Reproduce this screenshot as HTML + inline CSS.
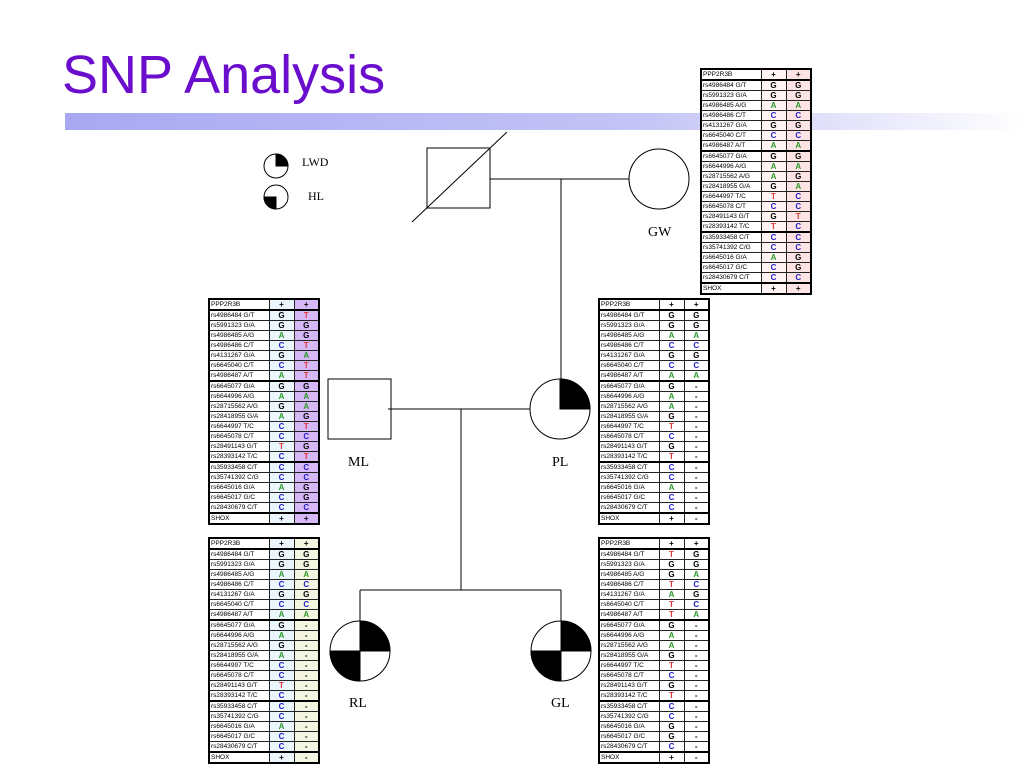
<!DOCTYPE html>
<html><head><meta charset="utf-8"><style>
body{margin:0;width:1024px;height:768px;background:#fff;position:relative;overflow:hidden;font-family:"Liberation Sans",sans-serif}
.title{position:absolute;left:62px;top:45px;font-size:54px;color:#6a0dcc;line-height:60px}
.bar{position:absolute;left:65px;top:113px;width:959px;height:17px;background:linear-gradient(to right,#a8a8f2,#c4c4f6 60%,#fff)}
table.t{position:absolute;width:112px;border-collapse:collapse;border:2px solid #000;font-size:6.5px;table-layout:fixed;background:#fff}
table.t td{border:1px solid #222;height:9px;padding:0 1px;line-height:9px;white-space:nowrap;overflow:hidden}
table.t td:nth-child(2),table.t td:nth-child(3){text-align:center;font-weight:bold;font-size:8px}
table.t tr.s td{border-top:2px solid #000}
.G{color:#000}.A{color:#2a9a2a}.C{color:#2222c8}.T{color:#e03838}
.t1 td:nth-child(2){background:#fff3f3}.t1 td:nth-child(3){background:#fde4e4}
.t2 td:nth-child(2){background:#eaf5fc}.t2 td:nth-child(3){background:#d6b8f6}
.t4 td:nth-child(2){background:#eaf5fc}.t4 td:nth-child(3){background:#f5f6e2}
.lbl{position:absolute;font-family:"Liberation Serif",serif;font-size:14px}
</style></head><body>
<div class="title">SNP Analysis</div>
<div class="bar"></div>
<svg width="1024" height="768" style="position:absolute;left:0;top:0" fill="none" stroke="#000" stroke-width="1">
<rect x="427" y="148" width="63" height="60" fill="#fff"/>
<line x1="412" y1="222" x2="507" y2="132"/>
<line x1="490" y1="179" x2="630" y2="179"/>
<line x1="561" y1="179" x2="561" y2="379"/>
<circle cx="659" cy="179" r="30" fill="#fff"/>
<rect x="328" y="379" width="63" height="60" fill="#fff"/>
<line x1="388" y1="409" x2="530" y2="409"/>
<line x1="461" y1="409" x2="461" y2="590"/>
<circle cx="560" cy="409" r="30" fill="#fff"/>
<path d="M560 409 L560 379 A30 30 0 0 1 590 409 Z" fill="#000"/>
<line x1="360" y1="590" x2="561" y2="590"/>
<line x1="360" y1="590" x2="360" y2="621"/>
<line x1="561" y1="590" x2="561" y2="621"/>
<circle cx="360" cy="651" r="30" fill="#fff"/>
<path d="M360 651 L360 621 A30 30 0 0 1 390 651 Z" fill="#000"/>
<path d="M360 651 L360 681 A30 30 0 0 1 330 651 Z" fill="#000"/>
<circle cx="561" cy="651" r="30" fill="#fff"/>
<path d="M561 651 L561 621 A30 30 0 0 1 591 651 Z" fill="#000"/>
<path d="M561 651 L561 681 A30 30 0 0 1 531 651 Z" fill="#000"/>
<circle cx="276" cy="166" r="12" fill="#fff"/>
<path d="M276 166 L276 154 A12 12 0 0 1 288 166 Z" fill="#000"/>
<circle cx="276" cy="197" r="12" fill="#fff"/>
<path d="M276 197 L276 209 A12 12 0 0 1 264 197 Z" fill="#000"/>
</svg>
<div class="lbl" style="left:302px;top:155px;font-size:12px">LWD</div>
<div class="lbl" style="left:308px;top:189px;font-size:12px">HL</div>
<div class="lbl" style="left:648px;top:225px">GW</div>
<div class="lbl" style="left:348px;top:455px">ML</div>
<div class="lbl" style="left:552px;top:455px">PL</div>
<div class="lbl" style="left:349px;top:696px">RL</div>
<div class="lbl" style="left:551px;top:696px">GL</div>

<table class="t t1" style="left:700px;top:68px"><colgroup><col style="width:60px"><col><col></colgroup>
<tr><td>PPP2R3B</td><td>+</td><td>+</td></tr>
<tr class="s"><td>rs4986484 G/T</td><td class="G">G</td><td class="G">G</td></tr>
<tr><td>rs5991323 G/A</td><td class="G">G</td><td class="G">G</td></tr>
<tr><td>rs4986485 A/G</td><td class="A">A</td><td class="A">A</td></tr>
<tr><td>rs4986486 C/T</td><td class="C">C</td><td class="C">C</td></tr>
<tr><td>rs4131267 G/A</td><td class="G">G</td><td class="G">G</td></tr>
<tr><td>rs6645040 C/T</td><td class="C">C</td><td class="C">C</td></tr>
<tr><td>rs4986487 A/T</td><td class="A">A</td><td class="A">A</td></tr>
<tr class="s"><td>rs6645077 G/A</td><td class="G">G</td><td class="G">G</td></tr>
<tr><td>rs6644996 A/G</td><td class="A">A</td><td class="A">A</td></tr>
<tr><td>rs28715562 A/G</td><td class="A">A</td><td class="G">G</td></tr>
<tr><td>rs28418955 G/A</td><td class="G">G</td><td class="A">A</td></tr>
<tr><td>rs6644997 T/C</td><td class="T">T</td><td class="C">C</td></tr>
<tr><td>rs6645078 C/T</td><td class="C">C</td><td class="C">C</td></tr>
<tr><td>rs28491143 G/T</td><td class="G">G</td><td class="T">T</td></tr>
<tr><td>rs28393142 T/C</td><td class="T">T</td><td class="C">C</td></tr>
<tr class="s"><td>rs35933458 C/T</td><td class="C">C</td><td class="C">C</td></tr>
<tr><td>rs35741392 C/G</td><td class="C">C</td><td class="C">C</td></tr>
<tr><td>rs6645016 G/A</td><td class="A">A</td><td class="G">G</td></tr>
<tr><td>rs6645017 G/C</td><td class="C">C</td><td class="G">G</td></tr>
<tr><td>rs28430679 C/T</td><td class="C">C</td><td class="C">C</td></tr>
<tr class="s"><td>SHOX</td><td>+</td><td>+</td></tr>
</table>

<table class="t t2" style="left:208px;top:298px"><colgroup><col style="width:60px"><col><col></colgroup>
<tr><td>PPP2R3B</td><td>+</td><td>+</td></tr>
<tr class="s"><td>rs4986484 G/T</td><td class="G">G</td><td class="T">T</td></tr>
<tr><td>rs5991323 G/A</td><td class="G">G</td><td class="G">G</td></tr>
<tr><td>rs4986485 A/G</td><td class="A">A</td><td class="G">G</td></tr>
<tr><td>rs4986486 C/T</td><td class="C">C</td><td class="T">T</td></tr>
<tr><td>rs4131267 G/A</td><td class="G">G</td><td class="A">A</td></tr>
<tr><td>rs6645040 C/T</td><td class="C">C</td><td class="T">T</td></tr>
<tr><td>rs4986487 A/T</td><td class="A">A</td><td class="T">T</td></tr>
<tr class="s"><td>rs6645077 G/A</td><td class="G">G</td><td class="G">G</td></tr>
<tr><td>rs6644996 A/G</td><td class="A">A</td><td class="A">A</td></tr>
<tr><td>rs28715562 A/G</td><td class="G">G</td><td class="A">A</td></tr>
<tr><td>rs28418955 G/A</td><td class="A">A</td><td class="G">G</td></tr>
<tr><td>rs6644997 T/C</td><td class="C">C</td><td class="T">T</td></tr>
<tr><td>rs6645078 C/T</td><td class="C">C</td><td class="C">C</td></tr>
<tr><td>rs28491143 G/T</td><td class="T">T</td><td class="G">G</td></tr>
<tr><td>rs28393142 T/C</td><td class="C">C</td><td class="T">T</td></tr>
<tr class="s"><td>rs35933458 C/T</td><td class="C">C</td><td class="C">C</td></tr>
<tr><td>rs35741392 C/G</td><td class="C">C</td><td class="C">C</td></tr>
<tr><td>rs6645016 G/A</td><td class="A">A</td><td class="G">G</td></tr>
<tr><td>rs6645017 G/C</td><td class="C">C</td><td class="G">G</td></tr>
<tr><td>rs28430679 C/T</td><td class="C">C</td><td class="C">C</td></tr>
<tr class="s"><td>SHOX</td><td>+</td><td>+</td></tr>
</table>

<table class="t t3" style="left:598px;top:298px"><colgroup><col style="width:60px"><col><col></colgroup>
<tr><td>PPP2R3B</td><td>+</td><td>+</td></tr>
<tr class="s"><td>rs4986484 G/T</td><td class="G">G</td><td class="G">G</td></tr>
<tr><td>rs5991323 G/A</td><td class="G">G</td><td class="G">G</td></tr>
<tr><td>rs4986485 A/G</td><td class="A">A</td><td class="A">A</td></tr>
<tr><td>rs4986486 C/T</td><td class="C">C</td><td class="C">C</td></tr>
<tr><td>rs4131267 G/A</td><td class="G">G</td><td class="G">G</td></tr>
<tr><td>rs6645040 C/T</td><td class="C">C</td><td class="C">C</td></tr>
<tr><td>rs4986487 A/T</td><td class="A">A</td><td class="A">A</td></tr>
<tr class="s"><td>rs6645077 G/A</td><td class="G">G</td><td>-</td></tr>
<tr><td>rs6644996 A/G</td><td class="A">A</td><td>-</td></tr>
<tr><td>rs28715562 A/G</td><td class="A">A</td><td>-</td></tr>
<tr><td>rs28418955 G/A</td><td class="G">G</td><td>-</td></tr>
<tr><td>rs6644997 T/C</td><td class="T">T</td><td>-</td></tr>
<tr><td>rs6645078 C/T</td><td class="C">C</td><td>-</td></tr>
<tr><td>rs28491143 G/T</td><td class="G">G</td><td>-</td></tr>
<tr><td>rs28393142 T/C</td><td class="T">T</td><td>-</td></tr>
<tr class="s"><td>rs35933458 C/T</td><td class="C">C</td><td>-</td></tr>
<tr><td>rs35741392 C/G</td><td class="C">C</td><td>-</td></tr>
<tr><td>rs6645016 G/A</td><td class="A">A</td><td>-</td></tr>
<tr><td>rs6645017 G/C</td><td class="C">C</td><td>-</td></tr>
<tr><td>rs28430679 C/T</td><td class="C">C</td><td>-</td></tr>
<tr class="s"><td>SHOX</td><td>+</td><td>-</td></tr>
</table>

<table class="t t4" style="left:208px;top:537px"><colgroup><col style="width:60px"><col><col></colgroup>
<tr><td>PPP2R3B</td><td>+</td><td>+</td></tr>
<tr class="s"><td>rs4986484 G/T</td><td class="G">G</td><td class="G">G</td></tr>
<tr><td>rs5991323 G/A</td><td class="G">G</td><td class="G">G</td></tr>
<tr><td>rs4986485 A/G</td><td class="A">A</td><td class="A">A</td></tr>
<tr><td>rs4986486 C/T</td><td class="C">C</td><td class="C">C</td></tr>
<tr><td>rs4131267 G/A</td><td class="G">G</td><td class="G">G</td></tr>
<tr><td>rs6645040 C/T</td><td class="C">C</td><td class="C">C</td></tr>
<tr><td>rs4986487 A/T</td><td class="A">A</td><td class="A">A</td></tr>
<tr class="s"><td>rs6645077 G/A</td><td class="G">G</td><td>-</td></tr>
<tr><td>rs6644996 A/G</td><td class="A">A</td><td>-</td></tr>
<tr><td>rs28715562 A/G</td><td class="G">G</td><td>-</td></tr>
<tr><td>rs28418955 G/A</td><td class="A">A</td><td>-</td></tr>
<tr><td>rs6644997 T/C</td><td class="C">C</td><td>-</td></tr>
<tr><td>rs6645078 C/T</td><td class="C">C</td><td>-</td></tr>
<tr><td>rs28491143 G/T</td><td class="T">T</td><td>-</td></tr>
<tr><td>rs28393142 T/C</td><td class="C">C</td><td>-</td></tr>
<tr class="s"><td>rs35933458 C/T</td><td class="C">C</td><td>-</td></tr>
<tr><td>rs35741392 C/G</td><td class="C">C</td><td>-</td></tr>
<tr><td>rs6645016 G/A</td><td class="A">A</td><td>-</td></tr>
<tr><td>rs6645017 G/C</td><td class="C">C</td><td>-</td></tr>
<tr><td>rs28430679 C/T</td><td class="C">C</td><td>-</td></tr>
<tr class="s"><td>SHOX</td><td>+</td><td>-</td></tr>
</table>

<table class="t t5" style="left:598px;top:537px"><colgroup><col style="width:60px"><col><col></colgroup>
<tr><td>PPP2R3B</td><td>+</td><td>+</td></tr>
<tr class="s"><td>rs4986484 G/T</td><td class="T">T</td><td class="G">G</td></tr>
<tr><td>rs5991323 G/A</td><td class="G">G</td><td class="G">G</td></tr>
<tr><td>rs4986485 A/G</td><td class="G">G</td><td class="A">A</td></tr>
<tr><td>rs4986486 C/T</td><td class="T">T</td><td class="C">C</td></tr>
<tr><td>rs4131267 G/A</td><td class="A">A</td><td class="G">G</td></tr>
<tr><td>rs6645040 C/T</td><td class="T">T</td><td class="C">C</td></tr>
<tr><td>rs4986487 A/T</td><td class="T">T</td><td class="A">A</td></tr>
<tr class="s"><td>rs6645077 G/A</td><td class="G">G</td><td>-</td></tr>
<tr><td>rs6644996 A/G</td><td class="A">A</td><td>-</td></tr>
<tr><td>rs28715562 A/G</td><td class="A">A</td><td>-</td></tr>
<tr><td>rs28418955 G/A</td><td class="G">G</td><td>-</td></tr>
<tr><td>rs6644997 T/C</td><td class="T">T</td><td>-</td></tr>
<tr><td>rs6645078 C/T</td><td class="C">C</td><td>-</td></tr>
<tr><td>rs28491143 G/T</td><td class="G">G</td><td>-</td></tr>
<tr><td>rs28393142 T/C</td><td class="T">T</td><td>-</td></tr>
<tr class="s"><td>rs35933458 C/T</td><td class="C">C</td><td>-</td></tr>
<tr><td>rs35741392 C/G</td><td class="C">C</td><td>-</td></tr>
<tr><td>rs6645016 G/A</td><td class="G">G</td><td>-</td></tr>
<tr><td>rs6645017 G/C</td><td class="G">G</td><td>-</td></tr>
<tr><td>rs28430679 C/T</td><td class="C">C</td><td>-</td></tr>
<tr class="s"><td>SHOX</td><td>+</td><td>-</td></tr>
</table>
</body></html>
